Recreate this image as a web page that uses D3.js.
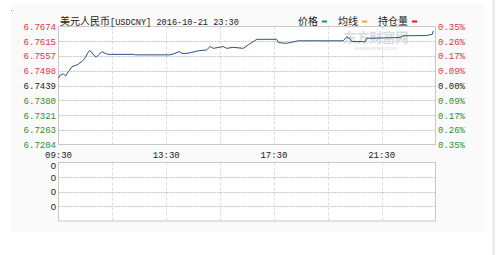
<!DOCTYPE html>
<html>
<head>
<meta charset="utf-8">
<script src="https://cdn.jsdelivr.net/npm/d3@7"></script>
<style>
	body {margin: 0; background: #fff;}
	svg {display: block;}
</style>
</head>
<body>
<div id="chart_disp"></div>
<script>
// price line (time, price)
var times = ["09:30","09:34","09:41","09:46","09:52","10:00","10:11","10:22","10:29","10:35",
	"10:39","10:43","10:48","10:54","10:59","11:07","11:14","11:21","12:17","12:21",
	"13:38","13:46","13:59","14:05","14:16","14:27","14:41","15:00","15:08","15:15",
	"15:37","15:45","15:59","16:22","16:33","16:44","16:52","17:36","17:40","17:58",
	"18:09","18:24","20:04","20:12","20:19","20:23","20:53","20:56","22:11","22:18",
	"23:10","23:23","23:25"]
var prices = [6.7468,6.7481,6.7485,6.7477,6.7494,6.7514,6.7521,6.7534,6.7548,6.7568,
	6.7578,6.7574,6.7561,6.7552,6.7561,6.7574,6.7567,6.7563,6.7563,6.7561,
	6.7561,6.7565,6.7574,6.7567,6.7567,6.7571,6.7577,6.7581,6.7594,6.7587,
	6.7594,6.7587,6.7591,6.7587,6.7601,6.7614,6.7623,6.7623,6.7610,6.7607,
	6.7611,6.7617,6.7617,6.7631,6.7627,6.7614,6.7614,6.7627,6.7630,6.7637,
	6.7638,6.7643,6.7657]

var priceTicks = [6.7674,6.7615,6.7557,6.7498,6.7439,6.7380,6.7321,6.7263,6.7204]
var pctTicks = ["0.35%","0.26%","0.17%","0.09%","0.00%","0.09%","0.17%","0.26%","0.35%"]
var timeTicks = ["09:30","11:30","13:30","15:30","17:30","19:30","21:30","23:30"]
var timeLabels = ["09:30","13:30","17:30","21:30"]
var volTicks = [0,0,0,0]
var legend = [{name:"价格", color:"#1a8a8a"}, {name:"均线", color:"#f0a830"}, {name:"持仓量", color:"#e8141c"}]

var W = 496, H = 255
// plot box (careful: "top" is taken by window)
var pL = 58.5, pR = 435.5, pT = 26.5, pB = 144.5
var vT = 162.5, vB = 221

var red = "#e8343c", green = "#2f8f2f", black = "#222"
var mono = "'Liberation Mono', 'DejaVu Sans Mono', monospace"

var svg = d3.select("#chart_disp").append("svg")
	.attr("width", W).attr("height", H)

// faint backdrop
svg.append("rect").attr("x", 11).attr("y", 4).attr("width", 473).attr("height", 228).attr("fill", "#fafafa")
svg.append("rect").attr("x", 492).attr("y", 0).attr("width", 3).attr("height", H).attr("fill", "#ededed")
svg.append("rect").attr("x", 11).attr("y", 10).attr("width", 1).attr("height", 1).attr("fill", "#888")

var parseT = d3.timeParse("%H:%M")
var x = d3.scaleTime()
	.domain([parseT("09:30"), parseT("23:30")])
	.range([pL, pR])
var y = d3.scaleLinear()
	.domain([6.7204, 6.7674])
	.range([pB, pT])
var yv = d3.scaleLinear().domain([0, 4]).range([vT, vB])

function gx(d){return Math.round(x(parseT(d)))+0.5}

// plot backgrounds
svg.append("rect").attr("x", pL).attr("y", pT).attr("width", pR-pL).attr("height", pB-pT).attr("fill", "#fff")
svg.append("rect").attr("x", pL).attr("y", vT).attr("width", pR-pL).attr("height", vB-vT).attr("fill", "#fff")

// vertical grid, both panels
svg.selectAll("line.vgrid")
	.data(timeTicks.slice(1, -1))
	.enter().append("line")
		.attr("class", "vgrid")
		.attr("x1", gx).attr("x2", gx)
		.attr("y1", pT).attr("y2", pB)
		.attr("stroke", "#dcdcdc").attr("stroke-dasharray", "3,2")
svg.selectAll("line.vgrid2")
	.data(timeTicks.slice(1, -1))
	.enter().append("line")
		.attr("class", "vgrid2")
		.attr("x1", gx).attr("x2", gx)
		.attr("y1", vT).attr("y2", vB)
		.attr("stroke", "#dcdcdc").attr("stroke-dasharray", "3,2")

// horizontal grid, price panel
svg.selectAll("line.hgrid")
	.data(priceTicks.slice(1, -1))
	.enter().append("line")
		.attr("class", "hgrid")
		.attr("x1", pL).attr("x2", pR)
		.attr("y1", function(d){return Math.round(y(d))+0.5})
		.attr("y2", function(d){return Math.round(y(d))+0.5})
		.attr("stroke", "#c4c4c4").attr("stroke-dasharray", "2,1")

// horizontal grid, volume panel
svg.selectAll("line.vhgrid")
	.data([1,2,3])
	.enter().append("line")
		.attr("class", "vhgrid")
		.attr("x1", pL).attr("x2", pR)
		.attr("y1", function(d){return Math.round(yv(d))+0.5})
		.attr("y2", function(d){return Math.round(yv(d))+0.5})
		.attr("stroke", "#c4c4c4").attr("stroke-dasharray", "2,1")

// frames
svg.append("rect").attr("x", pL).attr("y", pT).attr("width", pR-pL).attr("height", pB-pT)
	.attr("fill", "none").attr("stroke", "#c8c8c8")
svg.append("rect").attr("x", pL).attr("y", vT).attr("width", pR-pL).attr("height", vB-vT)
	.attr("fill", "none").attr("stroke", "#c8c8c8")

// watermark
var wm = svg.append("g").attr("fill", "#d5dbe3")
wm.append("text").attr("x", 376).attr("y", 42).attr("font-family", "'Noto Sans CJK SC'")
	.attr("font-size", 13).attr("font-weight", "bold").attr("text-anchor", "middle").text("东方财富网")
wm.append("text").attr("x", 376).attr("y", 49.5).attr("font-family", "Arial, sans-serif")
	.attr("font-size", 6).attr("text-anchor", "middle").text("eastmoney.com")

// price line
var line = d3.line()
	.x(function(d, i){return x(parseT(times[i]))})
	.y(function(d){return y(d)})
svg.append("path")
	.datum(prices)
	.attr("d", line)
	.attr("fill", "none")
	.attr("stroke", "#2c4f86")
	.attr("stroke-width", 1)

// left price labels
svg.selectAll("text.ylab")
	.data(priceTicks)
	.enter().append("text")
		.attr("class", "ylab")
		.attr("x", 56)
		.attr("y", function(d){return y(d)+3.5})
		.attr("text-anchor", "end")
		.attr("font-family", mono).attr("font-size", 9)
		.attr("fill", function(d, i){return i < 4 ? red : (i == 4 ? black : green)})
		.text(function(d){return d.toFixed(4)})

// right percent labels
svg.selectAll("text.plab")
	.data(pctTicks)
	.enter().append("text")
		.attr("class", "plab")
		.attr("x", 438)
		.attr("y", function(d, i){return y(priceTicks[i])+3.5})
		.attr("font-family", mono).attr("font-size", 9)
		.attr("fill", function(d, i){return i < 4 ? red : (i == 4 ? black : green)})
		.text(function(d){return d})

// time labels
svg.selectAll("text.xlab")
	.data(timeLabels)
	.enter().append("text")
		.attr("class", "xlab")
		.attr("x", function(d){return x(parseT(d))})
		.attr("y", 158)
		.attr("text-anchor", "middle")
		.attr("font-family", mono).attr("font-size", 9)
		.attr("fill", black)
		.text(function(d){return d})

// volume labels
svg.selectAll("text.vlab")
	.data(volTicks)
	.enter().append("text")
		.attr("class", "vlab")
		.attr("x", 56)
		.attr("y", function(d, i){return yv(i)+(i == 0 ? 6.5 : 3.5)})
		.attr("text-anchor", "end")
		.attr("font-family", "Arial, sans-serif").attr("font-size", 9.5)
		.attr("fill", black)
		.text(function(d){return d})

// title
var title = svg.append("text").attr("x", 60).attr("y", 25).attr("fill", black)
title.append("tspan").attr("font-family", "'Noto Sans CJK SC'").attr("font-size", 10).text("美元人民币")
title.append("tspan").attr("font-family", mono).attr("font-size", 8.6).text("[USDCNY] 2016-10-21 23:30")

// legend
var lx = [298, 338, 378]
var lg = svg.selectAll("g.leg")
	.data(legend)
	.enter().append("g")
		.attr("class", "leg")
		.attr("transform", function(d, i){return "translate(" + lx[i] + ",25)"})
lg.append("text")
	.attr("font-family", "'Noto Sans CJK SC'").attr("font-size", 10)
	.attr("fill", black)
	.text(function(d){return d.name})
lg.append("rect")
	.attr("x", function(d){return d.name.length * 10 + 4})
	.attr("y", -4.5).attr("width", 5).attr("height", 2)
	.attr("fill", function(d){return d.color})
</script>
</body>
</html>
